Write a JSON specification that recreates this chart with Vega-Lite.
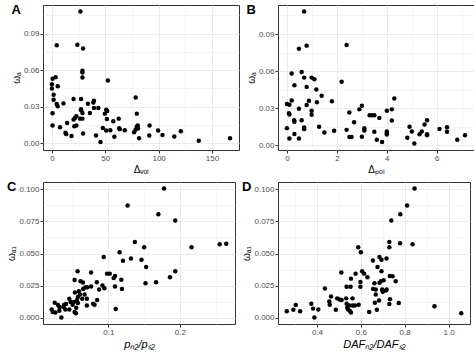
{
  "$schema": "https://vega.github.io/schema/vega-lite/v6.json",
  "padding": {"left": 6, "top": 3, "right": 1, "bottom": 0},
  "background": "white",
  "config": {
    "font": "Liberation Sans",
    "view": {"stroke": "#333333", "strokeWidth": 1},
    "axis": {"labelFontSize": 8, "labelColor": "#4D4D4D", "titleFontSize": 10, "titleFontWeight": "normal", "titleColor": "#000000", "tickColor": "#333333", "tickSize": 3, "domain": false, "gridColor": "#EBEBEB", "labelPadding": 1, "titlePadding": 2, "labelOverlap": false},
    "title": {"fontSize": 13, "fontWeight": "bold", "anchor": "start", "frame": "bounds", "offset": -12, "color": "#000000"},
    "point": {"filled": true, "color": "#000000", "opacity": 1, "size": 20}
  },
  "datasets": {
    "A": [
      {"dvol": 26.7, "omega_a": 0.108}, {"dvol": 4.5, "omega_a": 0.0805}, {"dvol": 23.8, "omega_a": 0.0808}, {"dvol": 29.2, "omega_a": 0.0778},
      {"dvol": 28.6, "omega_a": 0.0596}, {"dvol": 28.6, "omega_a": 0.058}, {"dvol": 28.6, "omega_a": 0.054}, {"dvol": 52.4, "omega_a": 0.0515},
      {"dvol": 0, "omega_a": 0.0485}, {"dvol": 0.6, "omega_a": 0.053}, {"dvol": 3.5, "omega_a": 0.0542}, {"dvol": 0, "omega_a": 0.045},
      {"dvol": 5.4, "omega_a": 0.0469}, {"dvol": 1.6, "omega_a": 0.0398}, {"dvol": 1.6, "omega_a": 0.0358}, {"dvol": 4.5, "omega_a": 0.0322},
      {"dvol": 5.4, "omega_a": 0.0304}, {"dvol": 10.8, "omega_a": 0.0328}, {"dvol": 20.3, "omega_a": 0.0363}, {"dvol": 27.3, "omega_a": 0.0363},
      {"dvol": 0.6, "omega_a": 0.0247}, {"dvol": 0.6, "omega_a": 0.0146}, {"dvol": 7.6, "omega_a": 0.0133}, {"dvol": 14.3, "omega_a": 0.0168},
      {"dvol": 12.7, "omega_a": 0.0087}, {"dvol": 13.4, "omega_a": 0.0076}, {"dvol": 18.4, "omega_a": 0.006}, {"dvol": 20.3, "omega_a": 0.0195},
      {"dvol": 21.6, "omega_a": 0.0209}, {"dvol": 22.9, "omega_a": 0.0222}, {"dvol": 21, "omega_a": 0.0141}, {"dvol": 22.9, "omega_a": 0.0146},
      {"dvol": 26.4, "omega_a": 0.0203}, {"dvol": 27.3, "omega_a": 0.0271}, {"dvol": 27.3, "omega_a": 0.028}, {"dvol": 28.6, "omega_a": 0.0249},
      {"dvol": 28.6, "omega_a": 0.0203}, {"dvol": 29.2, "omega_a": 0.0081}, {"dvol": 33.7, "omega_a": 0.0325}, {"dvol": 35.6, "omega_a": 0.0249},
      {"dvol": 38.8, "omega_a": 0.0336}, {"dvol": 39.4, "omega_a": 0.035}, {"dvol": 39.4, "omega_a": 0.029}, {"dvol": 43.5, "omega_a": 0.029},
      {"dvol": 41.3, "omega_a": 0.0065}, {"dvol": 45.5, "omega_a": 0.0011}, {"dvol": 47.7, "omega_a": 0.0127}, {"dvol": 49.6, "omega_a": 0.0244},
      {"dvol": 50.9, "omega_a": 0.0276}, {"dvol": 51.8, "omega_a": 0.0266}, {"dvol": 51.5, "omega_a": 0.02}, {"dvol": 50.9, "omega_a": 0.0106},
      {"dvol": 54.7, "omega_a": 0.0108}, {"dvol": 57.5, "omega_a": 0.0182}, {"dvol": 58.5, "omega_a": 0.0054}, {"dvol": 62.6, "omega_a": 0.0203},
      {"dvol": 63, "omega_a": 0.0125}, {"dvol": 63.6, "omega_a": 0.0117}, {"dvol": 68.3, "omega_a": 0.0108}, {"dvol": 78.5, "omega_a": 0.0377},
      {"dvol": 79.5, "omega_a": 0.0244}, {"dvol": 77, "omega_a": 0.0092}, {"dvol": 78.5, "omega_a": 0.0114}, {"dvol": 79.5, "omega_a": 0.0136},
      {"dvol": 80.4, "omega_a": 0.0146}, {"dvol": 80.7, "omega_a": 0.0122}, {"dvol": 81.7, "omega_a": 0.0043}, {"dvol": 91.5, "omega_a": 0.0146},
      {"dvol": 91.2, "omega_a": 0.0065}, {"dvol": 99.5, "omega_a": 0.0106}, {"dvol": 103.6, "omega_a": 0.0068}, {"dvol": 114.7, "omega_a": 0.0057},
      {"dvol": 120.8, "omega_a": 0.01}, {"dvol": 137.6, "omega_a": 0.0022}, {"dvol": 166.9, "omega_a": 0.0043}
    ],
    "B": [
      {"dpol": 0.69, "omega_a": 0.1082}, {"dpol": 0.48, "omega_a": 0.0781}, {"dpol": 0.79, "omega_a": 0.0806}, {"dpol": 2.39, "omega_a": 0.0811},
      {"dpol": 0.19, "omega_a": 0.058}, {"dpol": 0.59, "omega_a": 0.0593}, {"dpol": 0.69, "omega_a": 0.0547}, {"dpol": 0.99, "omega_a": 0.0547},
      {"dpol": 1.1, "omega_a": 0.0533}, {"dpol": 1.18, "omega_a": 0.045}, {"dpol": 0.79, "omega_a": 0.0472}, {"dpol": 0.3, "omega_a": 0.0486},
      {"dpol": 2.19, "omega_a": 0.0513}, {"dpol": 1.39, "omega_a": 0.04}, {"dpol": 0, "omega_a": 0.0334}, {"dpol": 0.1, "omega_a": 0.0328},
      {"dpol": 0.19, "omega_a": 0.0362}, {"dpol": 0.08, "omega_a": 0.0259}, {"dpol": 0.1, "omega_a": 0.0248}, {"dpol": 0.29, "omega_a": 0.0201},
      {"dpol": 0.3, "omega_a": 0.019}, {"dpol": 0, "omega_a": 0.0138}, {"dpol": 0.1, "omega_a": 0.0055}, {"dpol": 0.3, "omega_a": 0.0091},
      {"dpol": 0.48, "omega_a": 0.0295}, {"dpol": 0.59, "omega_a": 0.0201}, {"dpol": 0.48, "omega_a": 0.0055}, {"dpol": 0.69, "omega_a": 0.0144},
      {"dpol": 0.69, "omega_a": 0.013}, {"dpol": 0.79, "omega_a": 0.0326}, {"dpol": 0.88, "omega_a": 0.0359}, {"dpol": 0.99, "omega_a": 0.0279},
      {"dpol": 0.99, "omega_a": 0.0246}, {"dpol": 1.2, "omega_a": 0.0348}, {"dpol": 1.29, "omega_a": 0.0149}, {"dpol": 1.5, "omega_a": 0.0102},
      {"dpol": 1.8, "omega_a": 0.0356}, {"dpol": 1.89, "omega_a": 0.0116}, {"dpol": 2.39, "omega_a": 0.0124}, {"dpol": 2.5, "omega_a": 0.0265},
      {"dpol": 2.5, "omega_a": 0.0066}, {"dpol": 2.59, "omega_a": 0.0066}, {"dpol": 2.69, "omega_a": 0.0185}, {"dpol": 2.9, "omega_a": 0.029},
      {"dpol": 3.0, "omega_a": 0.032}, {"dpol": 3.0, "omega_a": 0.0069}, {"dpol": 3.1, "omega_a": 0.0138}, {"dpol": 3.1, "omega_a": 0.0119},
      {"dpol": 3.31, "omega_a": 0.0243}, {"dpol": 3.4, "omega_a": 0.0243}, {"dpol": 3.5, "omega_a": 0.0243}, {"dpol": 3.5, "omega_a": 0.0108},
      {"dpol": 3.6, "omega_a": 0.0044}, {"dpol": 3.7, "omega_a": 0.0221}, {"dpol": 3.81, "omega_a": 0.0025}, {"dpol": 4.0, "omega_a": 0.0279},
      {"dpol": 4.0, "omega_a": 0.011}, {"dpol": 4.0, "omega_a": 0.0097}, {"dpol": 4.0, "omega_a": 0.0086}, {"dpol": 4.2, "omega_a": 0.029},
      {"dpol": 4.2, "omega_a": 0.0199}, {"dpol": 4.3, "omega_a": 0.0378}, {"dpol": 4.82, "omega_a": 0.0061}, {"dpol": 4.91, "omega_a": 0.0149},
      {"dpol": 5.0, "omega_a": 0.011}, {"dpol": 5.1, "omega_a": 0.0014}, {"dpol": 5.31, "omega_a": 0.0088}, {"dpol": 5.4, "omega_a": 0.011},
      {"dpol": 5.51, "omega_a": 0.0168}, {"dpol": 5.61, "omega_a": 0.0201}, {"dpol": 5.61, "omega_a": 0.0088}, {"dpol": 5.61, "omega_a": 0.008},
      {"dpol": 6.11, "omega_a": 0.0132}, {"dpol": 6.41, "omega_a": 0.0146}, {"dpol": 6.41, "omega_a": 0.0108}, {"dpol": 6.82, "omega_a": 0.0044},
      {"dpol": 7.13, "omega_a": 0.008}
    ],
    "C": [
      {"pn_ps": 0.1778, "omega_a1": 0.1008}, {"pn_ps": 0.1269, "omega_a1": 0.0874}, {"pn_ps": 0.1699, "omega_a1": 0.0807}, {"pn_ps": 0.1935, "omega_a1": 0.0758},
      {"pn_ps": 0.2162, "omega_a1": 0.0549}, {"pn_ps": 0.2556, "omega_a1": 0.0572}, {"pn_ps": 0.2648, "omega_a1": 0.0577}, {"pn_ps": 0.0935, "omega_a1": 0.0472},
      {"pn_ps": 0.1157, "omega_a1": 0.051}, {"pn_ps": 0.1204, "omega_a1": 0.0443}, {"pn_ps": 0.137, "omega_a1": 0.059}, {"pn_ps": 0.1315, "omega_a1": 0.0461},
      {"pn_ps": 0.15, "omega_a1": 0.0549}, {"pn_ps": 0.1463, "omega_a1": 0.0451}, {"pn_ps": 0.1528, "omega_a1": 0.0394}, {"pn_ps": 0.1935, "omega_a1": 0.0361},
      {"pn_ps": 0.1861, "omega_a1": 0.0314}, {"pn_ps": 0.1667, "omega_a1": 0.0276}, {"pn_ps": 0.1519, "omega_a1": 0.0268}, {"pn_ps": 0.0569, "omega_a1": 0.0361},
      {"pn_ps": 0.0759, "omega_a1": 0.0351}, {"pn_ps": 0.0528, "omega_a1": 0.0294}, {"pn_ps": 0.0611, "omega_a1": 0.0284}, {"pn_ps": 0.0644, "omega_a1": 0.0273},
      {"pn_ps": 0.0838, "omega_a1": 0.0276}, {"pn_ps": 0.0917, "omega_a1": 0.025}, {"pn_ps": 0.0981, "omega_a1": 0.0343}, {"pn_ps": 0.1019, "omega_a1": 0.0343},
      {"pn_ps": 0.1074, "omega_a1": 0.0309}, {"pn_ps": 0.1093, "omega_a1": 0.0325}, {"pn_ps": 0.1093, "omega_a1": 0.0242}, {"pn_ps": 0.1181, "omega_a1": 0.0296},
      {"pn_ps": 0.119, "omega_a1": 0.0224}, {"pn_ps": 0.0944, "omega_a1": 0.0229}, {"pn_ps": 0.087, "omega_a1": 0.0219}, {"pn_ps": 0.0759, "omega_a1": 0.0242},
      {"pn_ps": 0.0676, "omega_a1": 0.0235}, {"pn_ps": 0.0648, "omega_a1": 0.0224}, {"pn_ps": 0.0704, "omega_a1": 0.0237}, {"pn_ps": 0.0588, "omega_a1": 0.0206},
      {"pn_ps": 0.0532, "omega_a1": 0.0196}, {"pn_ps": 0.0602, "omega_a1": 0.018}, {"pn_ps": 0.0667, "omega_a1": 0.018}, {"pn_ps": 0.0699, "omega_a1": 0.0147},
      {"pn_ps": 0.0634, "omega_a1": 0.0147}, {"pn_ps": 0.0574, "omega_a1": 0.016}, {"pn_ps": 0.056, "omega_a1": 0.0137}, {"pn_ps": 0.0843, "omega_a1": 0.0137},
      {"pn_ps": 0.0787, "omega_a1": 0.0108}, {"pn_ps": 0.0806, "omega_a1": 0.0101}, {"pn_ps": 0.0699, "omega_a1": 0.0095}, {"pn_ps": 0.0574, "omega_a1": 0.0113},
      {"pn_ps": 0.0519, "omega_a1": 0.0121}, {"pn_ps": 0.0472, "omega_a1": 0.0121}, {"pn_ps": 0.0454, "omega_a1": 0.0147}, {"pn_ps": 0.05, "omega_a1": 0.0101},
      {"pn_ps": 0.0551, "omega_a1": 0.0077}, {"pn_ps": 0.0528, "omega_a1": 0.0044}, {"pn_ps": 0.0546, "omega_a1": 0.0034}, {"pn_ps": 0.0407, "omega_a1": 0.0106},
      {"pn_ps": 0.038, "omega_a1": 0.0098}, {"pn_ps": 0.037, "omega_a1": 0.0082}, {"pn_ps": 0.0398, "omega_a1": 0.0064}, {"pn_ps": 0.0454, "omega_a1": 0.0064},
      {"pn_ps": 0.0315, "omega_a1": 0.0082}, {"pn_ps": 0.0296, "omega_a1": 0.0098}, {"pn_ps": 0.025, "omega_a1": 0.0116}, {"pn_ps": 0.0208, "omega_a1": 0.0064},
      {"pn_ps": 0.0222, "omega_a1": 0.0044}, {"pn_ps": 0.0259, "omega_a1": 0.0039}, {"pn_ps": 0.0315, "omega_a1": 0.0054}, {"pn_ps": 0.0343, "omega_a1": 0.0},
      {"pn_ps": 0.1102, "omega_a1": 0.0067}
    ],
    "D": [
      {"daf": 0.845, "omega_a1": 0.1008}, {"daf": 0.811, "omega_a1": 0.0874}, {"daf": 0.78, "omega_a1": 0.0807}, {"daf": 0.739, "omega_a1": 0.0758},
      {"daf": 0.779, "omega_a1": 0.058}, {"daf": 0.836, "omega_a1": 0.0572}, {"daf": 0.73, "omega_a1": 0.059}, {"daf": 0.73, "omega_a1": 0.0549},
      {"daf": 0.588, "omega_a1": 0.0549}, {"daf": 0.6, "omega_a1": 0.051}, {"daf": 0.717, "omega_a1": 0.0461}, {"daf": 0.685, "omega_a1": 0.0472},
      {"daf": 0.694, "omega_a1": 0.0451}, {"daf": 0.655, "omega_a1": 0.0446}, {"daf": 0.676, "omega_a1": 0.0394}, {"daf": 0.694, "omega_a1": 0.0361},
      {"daf": 0.606, "omega_a1": 0.0361}, {"daf": 0.615, "omega_a1": 0.0343}, {"daf": 0.576, "omega_a1": 0.0343}, {"daf": 0.511, "omega_a1": 0.0351},
      {"daf": 0.63, "omega_a1": 0.0314}, {"daf": 0.555, "omega_a1": 0.0304}, {"daf": 0.732, "omega_a1": 0.0325}, {"daf": 0.745, "omega_a1": 0.0322},
      {"daf": 0.759, "omega_a1": 0.0284}, {"daf": 0.704, "omega_a1": 0.0291}, {"daf": 0.691, "omega_a1": 0.0284}, {"daf": 0.685, "omega_a1": 0.0271},
      {"daf": 0.662, "omega_a1": 0.0268}, {"daf": 0.598, "omega_a1": 0.0278}, {"daf": 0.598, "omega_a1": 0.024}, {"daf": 0.535, "omega_a1": 0.024},
      {"daf": 0.553, "omega_a1": 0.024}, {"daf": 0.436, "omega_a1": 0.0227}, {"daf": 0.656, "omega_a1": 0.0224}, {"daf": 0.668, "omega_a1": 0.0219},
      {"daf": 0.697, "omega_a1": 0.0219}, {"daf": 0.7, "omega_a1": 0.0201}, {"daf": 0.714, "omega_a1": 0.0211}, {"daf": 0.718, "omega_a1": 0.0219},
      {"daf": 0.668, "omega_a1": 0.018}, {"daf": 0.533, "omega_a1": 0.015}, {"daf": 0.562, "omega_a1": 0.015}, {"daf": 0.464, "omega_a1": 0.0165},
      {"daf": 0.492, "omega_a1": 0.015}, {"daf": 0.503, "omega_a1": 0.0142}, {"daf": 0.512, "omega_a1": 0.0137}, {"daf": 0.456, "omega_a1": 0.0126},
      {"daf": 0.458, "omega_a1": 0.0101}, {"daf": 0.374, "omega_a1": 0.0108}, {"daf": 0.733, "omega_a1": 0.0144}, {"daf": 0.683, "omega_a1": 0.0134},
      {"daf": 0.664, "omega_a1": 0.0116}, {"daf": 0.73, "omega_a1": 0.0106}, {"daf": 0.773, "omega_a1": 0.0113}, {"daf": 0.535, "omega_a1": 0.0108},
      {"daf": 0.547, "omega_a1": 0.0095}, {"daf": 0.562, "omega_a1": 0.0095}, {"daf": 0.573, "omega_a1": 0.0095}, {"daf": 0.59, "omega_a1": 0.0101},
      {"daf": 0.538, "omega_a1": 0.0077}, {"daf": 0.542, "omega_a1": 0.0064}, {"daf": 0.55, "omega_a1": 0.0052}, {"daf": 0.555, "omega_a1": 0.0039},
      {"daf": 0.486, "omega_a1": 0.0062}, {"daf": 0.673, "omega_a1": 0.0062}, {"daf": 0.638, "omega_a1": 0.0044}, {"daf": 0.406, "omega_a1": 0.0064},
      {"daf": 0.382, "omega_a1": 0.007}, {"daf": 0.388, "omega_a1": 0.0}, {"daf": 0.323, "omega_a1": 0.0049}, {"daf": 0.303, "omega_a1": 0.0098},
      {"daf": 0.292, "omega_a1": 0.0062}, {"daf": 0.262, "omega_a1": 0.0049}, {"daf": 0.936, "omega_a1": 0.0088}, {"daf": 1.058, "omega_a1": 0.0034}
    ]
  },
  "vconcat": [
    {
      "hconcat": [
        {
          "title": "A",
          "width": 196, "height": 145,
          "data": {"name": "A"},
          "mark": "point",
          "encoding": {
            "x": {"field": "dvol", "type": "quantitative", "title": "Δᵥₒₗ",
              "scale": {"domain": [-8.35, 175.3], "nice": false, "zero": false},
              "axis": {"values": [0, 25, 50, 75, 100, 125, 150], "labelExpr": "datum.value % 50 === 0 ? format(datum.value, 'd') : ''",
                "gridWidth": {"condition": {"test": "datum.value % 50 === 0", "value": 1}, "value": 0.5},
                "tickOpacity": {"condition": {"test": "datum.value % 50 === 0", "value": 1}, "value": 0}}},
            "y": {"field": "omega_a", "type": "quantitative", "title": "ωₐ",
              "scale": {"domain": [-0.0054, 0.1134], "nice": false, "zero": false},
              "axis": {"values": [0, 0.015, 0.03, 0.045, 0.06, 0.075, 0.09, 0.105], "labelExpr": "abs(datum.value/0.03 - round(datum.value/0.03)) < 0.001 ? format(datum.value, '.2f') : ''",
                "gridWidth": {"condition": {"test": "abs(datum.value/0.03 - round(datum.value/0.03)) < 0.001", "value": 1}, "value": 0.5},
                "tickOpacity": {"condition": {"test": "abs(datum.value/0.03 - round(datum.value/0.03)) < 0.001", "value": 1}, "value": 0}}}
          }
        },
        {
          "title": "B",
          "width": 196, "height": 145,
          "data": {"name": "B"},
          "mark": "point",
          "encoding": {
            "x": {"field": "dpol", "type": "quantitative", "title": "Δₚₒₗ",
              "scale": {"domain": [-0.357, 7.49], "nice": false, "zero": false},
              "axis": {"values": [0, 1, 2, 3, 4, 5, 6, 7], "labelExpr": "datum.value % 2 === 0 ? format(datum.value, 'd') : ''",
                "gridWidth": {"condition": {"test": "datum.value % 2 === 0", "value": 1}, "value": 0.5},
                "tickOpacity": {"condition": {"test": "datum.value % 2 === 0", "value": 1}, "value": 0}}},
            "y": {"field": "omega_a", "type": "quantitative", "title": "ωₐ",
              "scale": {"domain": [-0.0039, 0.1135], "nice": false, "zero": false},
              "axis": {"values": [0, 0.015, 0.03, 0.045, 0.06, 0.075, 0.09, 0.105], "labelExpr": "abs(datum.value/0.03 - round(datum.value/0.03)) < 0.001 ? format(datum.value, '.2f') : ''",
                "gridWidth": {"condition": {"test": "abs(datum.value/0.03 - round(datum.value/0.03)) < 0.001", "value": 1}, "value": 0.5},
                "tickOpacity": {"condition": {"test": "abs(datum.value/0.03 - round(datum.value/0.03)) < 0.001", "value": 1}, "value": 0}}}
          }
        }
      ],
      "spacing": 5
    },
    {
      "hconcat": [
        {
          "title": "C",
          "width": 192, "height": 142,
          "data": {"name": "C"},
          "mark": "point",
          "encoding": {
            "x": {"field": "pn_ps", "type": "quantitative", "title": "pₙ₂/pₛ₂",
              "scale": {"domain": [0.0086, 0.277], "nice": false, "zero": false},
              "axis": {"values": [0.05, 0.1, 0.15, 0.2, 0.25], "titleFontStyle": "italic", "titleFontSize": 11,
                "labelExpr": "abs(datum.value*10 - round(datum.value*10)) < 0.001 ? format(datum.value, '.1f') : ''",
                "gridWidth": {"condition": {"test": "abs(datum.value*10 - round(datum.value*10)) < 0.001", "value": 1}, "value": 0.5},
                "tickOpacity": {"condition": {"test": "abs(datum.value*10 - round(datum.value*10)) < 0.001", "value": 1}, "value": 0}}},
            "y": {"field": "omega_a1", "type": "quantitative", "title": "ωₐ₁",
              "scale": {"domain": [-0.005, 0.1058], "nice": false, "zero": false},
              "axis": {"values": [0, 0.0125, 0.025, 0.0375, 0.05, 0.0625, 0.075, 0.0875, 0.1], "labelExpr": "abs(datum.value/0.025 - round(datum.value/0.025)) < 0.001 ? format(datum.value, '.3f') : ''",
                "gridWidth": {"condition": {"test": "abs(datum.value/0.025 - round(datum.value/0.025)) < 0.001", "value": 1}, "value": 0.5},
                "tickOpacity": {"condition": {"test": "abs(datum.value/0.025 - round(datum.value/0.025)) < 0.001", "value": 1}, "value": 0}}}
          }
        },
        {
          "title": "D",
          "width": 192, "height": 142,
          "data": {"name": "D"},
          "mark": "point",
          "encoding": {
            "x": {"field": "daf", "type": "quantitative", "title": "DAFₙ₂/DAFₛ₂",
              "scale": {"domain": [0.222, 1.098], "nice": false, "zero": false},
              "axis": {"values": [0.3, 0.4, 0.5, 0.6, 0.7, 0.8, 0.9, 1.0], "titleFontStyle": "italic", "titleFontSize": 11,
                "labelExpr": "abs(datum.value*5 - round(datum.value*5)) < 0.001 ? format(datum.value, '.1f') : ''",
                "gridWidth": {"condition": {"test": "abs(datum.value*5 - round(datum.value*5)) < 0.001", "value": 1}, "value": 0.5},
                "tickOpacity": {"condition": {"test": "abs(datum.value*5 - round(datum.value*5)) < 0.001", "value": 1}, "value": 0}}},
            "y": {"field": "omega_a1", "type": "quantitative", "title": "ωₐ₁",
              "scale": {"domain": [-0.005, 0.1058], "nice": false, "zero": false},
              "axis": {"values": [0, 0.0125, 0.025, 0.0375, 0.05, 0.0625, 0.075, 0.0875, 0.1], "labelExpr": "abs(datum.value/0.025 - round(datum.value/0.025)) < 0.001 ? format(datum.value, '.3f') : ''",
                "gridWidth": {"condition": {"test": "abs(datum.value/0.025 - round(datum.value/0.025)) < 0.001", "value": 1}, "value": 0.5},
                "tickOpacity": {"condition": {"test": "abs(datum.value/0.025 - round(datum.value/0.025)) < 0.001", "value": 1}, "value": 0}}}
          }
        }
      ],
      "spacing": 5
    }
  ],
  "spacing": 5
}
